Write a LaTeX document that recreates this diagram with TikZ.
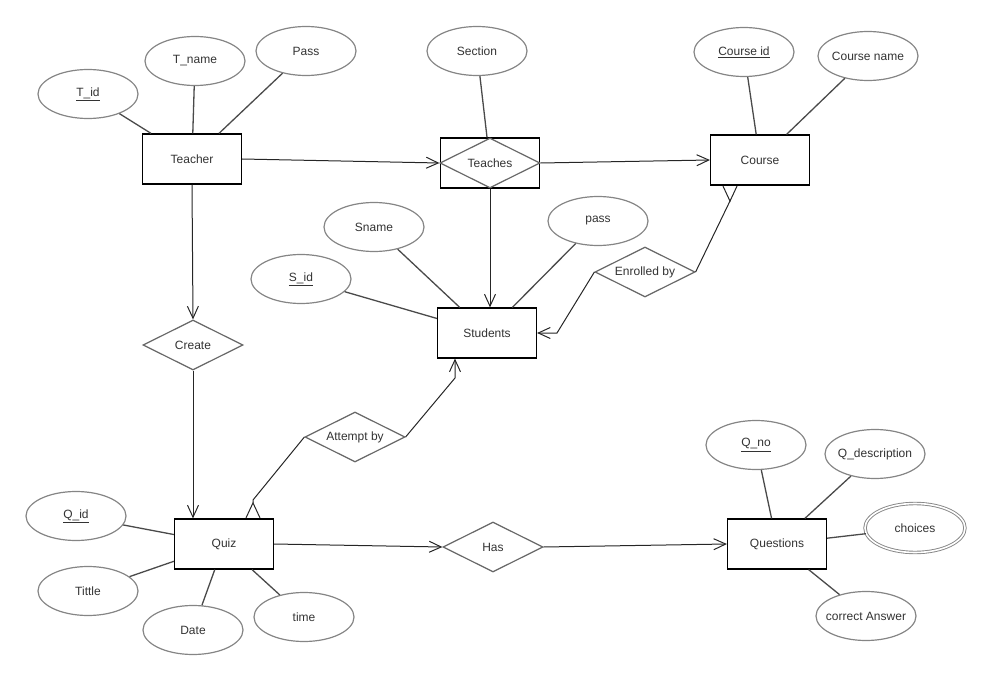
\documentclass[tikz,border=0pt]{standalone}
\usepackage{fontspec}
\setmainfont{Liberation Sans}
\usetikzlibrary{shapes.geometric, arrows.meta}

\definecolor{txtgray}{HTML}{333333}
\definecolor{ellgray}{HTML}{858585}
\definecolor{diagray}{HTML}{666666}
\definecolor{linegray}{HTML}{4A4A4A}

\tikzstyle{entity} = [
  rectangle, minimum width=99pt, minimum height=50pt,
  text centered, draw=black, line width=1.2pt, fill=white, text=txtgray
]
\tikzstyle{attribute} = [
  ellipse, minimum width=100pt, minimum height=49pt,
  inner xsep=-12pt, inner ysep=0pt,
  draw=ellgray, line width=1.2pt, fill=white, text=txtgray
]
\tikzstyle{multivalued} = [
  attribute, line width=0.9pt, double=white, double distance=1.6pt
]
\tikzstyle{relation} = [
  diamond, aspect=2, minimum width=100pt, minimum height=50pt, inner sep=0pt,
  draw=diagray, line width=1.2pt, fill=white, text=txtgray
]
\tikzset{
  arrow/.style={
    line width=1pt, draw=black!85,
    -{Straight Barb[length=12pt,width=11pt]}
  },
  crowfoot/.style={
    line width=1pt, draw=black!85,
    -{Straight Barb[reversed,length=15pt,width=14pt]}
  },
  link/.style={line width=1.3pt, draw=linegray}
}

\begin{document}
\begin{tikzpicture}[
  x=1pt, y=-1pt,
  font=\fontsize{12}{14}\selectfont
]
\useasboundingbox (0,0) rectangle (991,682);

% ------------------------------------------------
% ENTIDADES
% ------------------------------------------------

\node[entity] (teacher) at (192,159) {Teacher};
\node[entity] (course) at (760,160) {Course};
\node[entity] (students) at (487,333) {Students};
\node[entity] (quiz) at (224,544) {Quiz};
\node[entity] (questions) at (777,544) {Questions};

% ------------------------------------------------
% RELACIONES
% ------------------------------------------------

\node[entity] (teachesbox) at (490,163) {};
\node[relation] (teaches) at (490,163) {Teaches};
\node[relation] (enrolled) at (645,272) {Enrolled by};
\node[relation] (create) at (193,345) {Create};
\node[relation] (attempt) at (355,437) {Attempt by};
\node[relation] (has) at (493,547) {Has};

% ------------------------------------------------
% ATRIBUTOS
% ------------------------------------------------

\node[attribute] (tid) at (88,94) {\underline{T\_id}};
\node[attribute] (tname) at (195,61) {T\_name};
\node[attribute] (tpass) at (306,51) {Pass};

\node[attribute] (section) at (477,51) {Section};

\node[attribute] (courseid) at (744,52) {\underline{Course id}};
\node[attribute] (coursename) at (868,56) {Course name};

\node[attribute] (sname) at (374,227) {Sname};
\node[attribute] (spass) at (598,221) {pass};
\node[attribute] (sid) at (301,279) {\underline{S\_id}};

\node[attribute] (qid) at (76,516) {\underline{Q\_id}};
\node[attribute] (tittle) at (88,591) {Tittle};
\node[attribute] (date) at (193,630) {Date};
\node[attribute] (time) at (304,617) {time};

\node[attribute] (qno) at (756,445) {\underline{Q\_no}};
\node[attribute] (qdesc) at (875,454) {Q\_description};
\node[multivalued] (choices) at (915,528) {choices};
\node[attribute] (answer) at (866,616) {correct Answer};

% puntos de quiebre
\coordinate (cbend) at (730,201);
\coordinate (sbend) at (557,333);
\coordinate (abend) at (455,378);
\coordinate (qbend) at (253,500);

% ------------------------------------------------
% LINEAS DE ATRIBUTOS
% ------------------------------------------------

\draw[link] (tid) -- (teacher);
\draw[link] (tname) -- (teacher);
\draw[link] (tpass) -- (teacher);
\draw[link] (section) -- (teachesbox);
\draw[link] (courseid) -- (course);
\draw[link] (coursename) -- (course);
\draw[link] (sname) -- (students);
\draw[link] (spass) -- (students);
\draw[link] (sid) -- (students);
\draw[link] (qid) -- (quiz);
\draw[link] (tittle) -- (quiz);
\draw[link] (date) -- (quiz);
\draw[link] (time) -- (quiz);
\draw[link] (qno) -- (questions);
\draw[link] (qdesc) -- (questions);
\draw[link] (choices) -- (questions);
\draw[link] (answer) -- (questions);

% ------------------------------------------------
% FLECHAS
% ------------------------------------------------

\draw[arrow] (teacher.east) -- (teaches.west);
\draw[arrow] (teaches.east) -- (course.west);
\draw[arrow] (teaches.south) -- (teaches.south |- students.north);

\draw[arrow] (teacher.south) -- (create.north);
\draw[arrow] (create.south) -- (create.south |- quiz.north);

\draw[crowfoot] (enrolled.east) -- (cbend) -- (cbend |- course.south);
\draw[arrow] (enrolled.west) -- (sbend) -- (students.east);

\draw[arrow] (attempt.east) -- (abend) -- (abend |- students.south);
\draw[crowfoot] (attempt.west) -- (qbend) -- (qbend |- quiz.north);

\draw[arrow] (quiz.east) -- (has.west);
\draw[arrow] (has.east) -- (questions.west);

\end{tikzpicture}
\end{document}
